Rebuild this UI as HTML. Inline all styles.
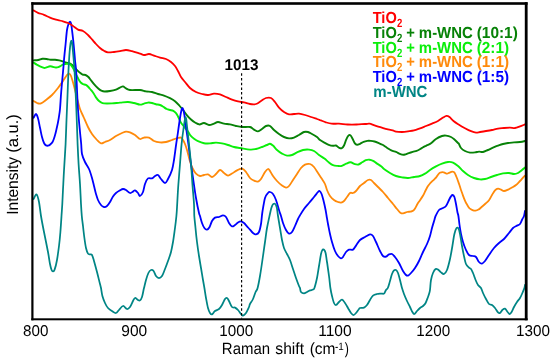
<!DOCTYPE html>
<html lang="en"><head><meta charset="utf-8"><title>Raman spectra</title>
<style>html,body{margin:0;padding:0;background:#fff;}svg{display:block;}</style></head>
<body>
<svg width="550" height="360" viewBox="0 0 550 360" font-family="Liberation Sans, Arial, sans-serif" text-rendering="geometricPrecision">
<rect x="0" y="0" width="550" height="360" fill="#ffffff"/>
<g fill="none" stroke-linejoin="round" stroke-linecap="round">
<path d="M33.6,60.4C34.4,60.3 36.8,60.3 38.3,60.0C39.8,59.7 41.1,59.0 42.5,58.8C43.9,58.6 45.3,58.8 46.7,59.0C48.1,59.2 49.4,59.7 50.8,59.8C52.2,59.9 53.6,59.6 55.0,59.7C56.4,59.8 57.8,60.1 59.2,60.4C60.6,60.7 61.9,61.2 63.3,61.6C64.7,62.0 66.3,62.5 67.5,62.9C68.7,63.3 69.6,63.4 70.5,63.9C71.4,64.4 72.0,64.9 73.0,65.8C74.0,66.7 75.2,68.3 76.3,69.4C77.4,70.5 78.7,71.7 79.7,72.6C80.8,73.5 81.6,74.2 82.6,74.6C83.6,75.0 84.5,74.6 85.5,75.0C86.5,75.4 87.4,76.0 88.4,77.0C89.4,78.0 90.2,79.4 91.3,80.7C92.3,82.0 93.6,83.7 94.7,84.9C95.8,86.2 96.9,87.2 98.0,88.2C99.1,89.2 100.2,90.2 101.3,90.7C102.4,91.2 103.2,91.5 104.7,91.5C106.2,91.5 108.1,91.3 110.0,91.0C111.9,90.7 114.3,90.2 116.0,89.6C117.7,89.0 118.8,88.1 120.0,87.6C121.2,87.1 122.0,86.3 123.0,86.4C124.0,86.5 124.8,87.8 126.0,88.4C127.2,89.0 127.7,89.7 130.0,90.0C132.3,90.3 137.3,89.8 140.0,90.0C142.7,90.2 144.0,91.1 146.0,91.4C148.0,91.7 150.0,91.6 152.0,92.0C154.0,92.4 156.0,93.4 158.0,94.0C160.0,94.6 162.0,94.9 164.0,95.6C166.0,96.3 168.2,97.3 170.0,98.2C171.8,99.1 173.5,100.0 175.0,101.2C176.5,102.4 177.7,103.7 179.0,105.2C180.3,106.7 181.7,108.3 183.0,110.0C184.3,111.7 185.7,113.7 187.0,115.3C188.3,116.9 189.7,118.3 191.0,119.5C192.3,120.7 193.8,121.8 195.0,122.5C196.2,123.2 197.2,123.7 198.0,124.0C198.8,124.3 199.0,124.6 200.0,124.4C201.0,124.2 202.5,122.9 204.0,123.0C205.5,123.1 207.3,124.9 209.0,125.0C210.7,125.1 212.5,124.1 214.0,123.6C215.5,123.1 216.3,122.0 218.0,122.0C219.7,122.0 222.0,123.2 224.0,123.6C226.0,124.0 228.0,124.0 230.0,124.4C232.0,124.8 234.0,125.6 236.0,126.0C238.0,126.4 239.7,126.8 242.0,127.0C244.3,127.2 248.0,126.6 250.0,127.0C252.0,127.4 252.7,128.9 254.0,129.6C255.3,130.3 256.7,131.5 258.0,131.4C259.3,131.3 260.7,129.9 262.0,129.0C263.3,128.1 264.7,126.5 266.0,126.0C267.3,125.5 268.7,125.3 270.0,126.0C271.3,126.7 272.5,128.7 274.0,130.0C275.5,131.3 277.3,132.8 279.0,134.0C280.7,135.2 282.3,136.3 284.0,137.0C285.7,137.7 287.3,138.3 289.0,138.4C290.7,138.5 292.3,138.2 294.0,137.6C295.7,137.0 297.3,135.9 299.0,135.0C300.7,134.1 302.5,132.5 304.0,132.0C305.5,131.5 306.7,131.7 308.0,132.0C309.3,132.3 310.5,133.2 312.0,134.0C313.5,134.8 315.7,136.0 317.0,137.0C318.3,138.0 318.8,139.1 320.0,140.0C321.2,140.9 322.9,141.8 324.4,142.6C325.8,143.4 327.3,144.3 328.7,144.8C330.1,145.3 331.8,145.7 333.0,145.8C334.2,145.9 335.0,145.2 336.0,145.5C337.0,145.8 337.9,147.2 338.9,147.7C339.9,148.1 340.9,148.6 341.8,148.2C342.7,147.8 343.3,146.9 344.0,145.5C344.7,144.1 345.5,141.3 346.2,139.7C346.9,138.1 347.7,136.4 348.4,135.7C349.1,135.0 349.8,134.8 350.5,135.4C351.2,136.0 352.0,137.7 352.7,139.0C353.4,140.3 354.2,142.4 354.9,143.4C355.6,144.4 356.2,144.7 357.1,144.8C358.0,144.9 358.9,144.3 360.0,143.8C361.1,143.3 362.4,142.4 363.6,141.9C364.8,141.4 366.1,141.1 367.3,140.9C368.5,140.7 369.7,140.8 370.9,140.9C372.1,141.0 373.3,141.2 374.5,141.5C375.7,141.8 376.9,142.3 378.2,142.9C379.5,143.5 381.1,144.0 382.5,144.8C383.9,145.6 385.4,146.8 386.9,147.7C388.4,148.6 389.8,149.7 391.3,150.4C392.8,151.1 394.7,151.4 396.0,151.9C397.3,152.4 398.3,153.2 399.3,153.6C400.3,154.0 401.2,154.4 402.1,154.6C403.0,154.8 403.8,154.8 404.9,154.5C406.0,154.2 407.5,153.5 408.8,153.1C410.1,152.7 411.4,152.3 412.7,151.9C414.0,151.5 415.4,151.2 416.6,150.8C417.8,150.4 418.9,149.8 419.9,149.2C420.9,148.6 421.7,148.1 422.7,147.5C423.7,146.9 425.0,146.3 426.0,145.8C427.0,145.3 427.7,145.1 428.5,144.7C429.3,144.3 429.8,144.2 431.0,143.3C432.2,142.4 434.2,140.2 436.0,139.0C437.8,137.8 440.3,136.6 442.0,136.0C443.7,135.4 444.5,135.4 446.0,135.6C447.5,135.8 449.5,136.3 451.0,137.0C452.5,137.7 453.8,139.0 455.0,140.0C456.2,141.0 457.3,142.3 458.0,143.0C458.7,143.7 458.5,143.2 459.0,144.0C459.5,144.8 460.0,146.8 461.0,148.0C462.0,149.2 463.5,150.2 465.0,151.0C466.5,151.8 468.3,152.4 470.0,152.6C471.7,152.8 473.5,152.6 475.0,152.4C476.5,152.2 477.7,151.7 479.0,151.6C480.3,151.5 481.5,152.3 483.0,152.0C484.5,151.7 486.3,150.7 488.0,150.0C489.7,149.3 491.3,148.3 493.0,147.6C494.7,146.9 496.3,146.2 498.0,145.6C499.7,145.0 501.3,144.4 503.0,144.0C504.7,143.6 506.2,143.3 508.0,143.0C509.8,142.7 512.0,142.6 514.0,142.4C516.0,142.2 518.2,142.2 520.0,142.0C521.8,141.8 524.2,141.2 525.0,141.0" stroke="#078207" stroke-width="1.9"/>
<path d="M33.6,62.6C34.1,62.9 35.6,64.0 36.7,64.6C37.8,65.2 38.9,65.8 40.0,66.3C41.1,66.8 42.5,67.4 43.3,67.7C44.1,68.0 44.3,68.0 45.0,67.9C45.7,67.8 46.7,67.4 47.5,67.1C48.3,66.8 49.2,66.4 50.0,66.3C50.8,66.2 51.5,66.5 52.5,66.7C53.5,66.9 54.8,67.4 55.8,67.5C56.8,67.6 57.5,67.4 58.3,67.1C59.1,66.8 60.0,66.2 60.8,65.8C61.6,65.3 62.3,64.7 63.3,64.4C64.3,64.1 65.6,63.8 66.7,63.8C67.8,63.8 68.9,63.8 69.7,64.2C70.5,64.6 71.2,65.4 71.8,66.2C72.4,67.0 73.1,68.2 73.6,69.2C74.1,70.2 74.5,71.2 75.0,72.2C75.5,73.2 76.0,74.3 76.5,75.2C77.0,76.1 77.4,76.8 77.8,77.6C78.2,78.4 78.5,79.3 79.0,80.1C79.5,80.9 80.0,81.8 80.7,82.5C81.4,83.2 82.1,83.7 83.0,84.1C83.9,84.5 85.0,84.4 85.9,84.9C86.8,85.4 87.6,86.2 88.4,87.0C89.2,87.8 90.1,89.0 90.9,89.9C91.7,90.8 92.2,91.4 93.0,92.5C93.8,93.6 94.7,95.3 95.5,96.6C96.3,97.8 97.1,99.0 98.0,100.0C98.9,101.0 100.0,101.8 101.0,102.4C102.0,103.0 102.2,103.2 104.0,103.4C105.8,103.6 109.3,103.5 112.0,103.4C114.7,103.3 117.3,102.8 120.0,102.6C122.7,102.4 125.7,101.9 128.0,102.0C130.3,102.1 132.0,102.6 134.0,103.0C136.0,103.4 138.3,104.5 140.0,104.6C141.7,104.7 142.7,103.9 144.0,103.6C145.3,103.3 146.7,102.7 148.0,102.6C149.3,102.5 150.7,102.7 152.0,103.0C153.3,103.3 154.7,103.9 156.0,104.2C157.3,104.5 158.8,104.6 160.0,105.0C161.2,105.4 162.2,106.1 163.3,106.8C164.4,107.5 165.6,108.5 166.7,109.0C167.8,109.5 168.9,109.7 170.0,110.0C171.1,110.3 172.3,110.4 173.3,110.9C174.3,111.4 175.0,112.0 175.8,112.9C176.6,113.8 177.3,115.1 177.9,116.2C178.5,117.3 179.1,118.7 179.6,119.8C180.1,120.9 180.3,121.7 181.0,122.8C181.7,123.9 182.8,125.1 184.0,126.6C185.2,128.1 186.9,130.1 188.0,131.6C189.1,133.1 189.5,134.4 190.6,135.6C191.7,136.8 193.2,138.1 194.4,139.0C195.6,139.9 196.4,140.5 198.0,141.2C199.6,141.9 202.0,142.8 204.0,143.2C206.0,143.6 208.0,143.5 210.0,143.4C212.0,143.3 214.0,142.6 216.0,142.6C218.0,142.6 220.0,143.0 222.0,143.4C224.0,143.8 226.0,144.4 228.0,145.0C230.0,145.6 232.0,146.5 234.0,147.0C236.0,147.5 237.3,147.6 240.0,148.0C242.7,148.4 247.3,149.4 250.0,149.6C252.7,149.8 254.0,149.4 256.0,149.0C258.0,148.6 260.2,147.7 262.0,147.0C263.8,146.3 265.7,145.5 267.0,145.0C268.3,144.5 269.0,143.7 270.0,143.8C271.0,143.9 271.8,144.6 273.0,145.6C274.2,146.6 275.5,148.7 277.0,150.0C278.5,151.3 280.3,152.7 282.0,153.6C283.7,154.5 285.3,155.4 287.0,155.6C288.7,155.8 290.3,155.5 292.0,155.0C293.7,154.5 295.2,153.2 297.0,152.4C298.8,151.6 301.0,150.5 303.0,150.0C305.0,149.5 307.2,149.4 309.0,149.6C310.8,149.8 312.3,150.1 314.0,151.0C315.7,151.9 317.3,153.7 319.0,155.0C320.7,156.3 322.8,157.4 324.4,158.6C326.0,159.8 327.3,161.2 328.7,162.3C330.1,163.4 331.5,164.6 333.0,165.2C334.5,165.8 336.0,165.8 337.5,165.9C339.0,166.0 340.4,166.3 341.8,165.9C343.2,165.5 344.8,164.3 346.2,163.7C347.6,163.1 349.1,162.2 350.5,162.3C351.9,162.4 353.6,163.8 354.9,164.2C356.2,164.6 357.3,164.8 358.5,164.5C359.7,164.2 361.0,163.0 362.2,162.3C363.4,161.6 364.6,160.5 365.8,160.1C367.0,159.7 368.3,159.6 369.5,159.7C370.7,159.8 371.9,160.2 373.1,160.8C374.3,161.4 375.4,162.5 376.7,163.4C378.0,164.3 379.9,165.3 381.1,166.2C382.3,167.1 382.5,167.9 384.0,169.0C385.5,170.1 388.0,171.8 390.0,173.0C392.0,174.2 394.0,175.3 396.0,176.0C398.0,176.7 400.0,177.1 402.0,177.4C404.0,177.7 406.0,178.1 408.0,178.0C410.0,177.9 412.0,177.3 414.0,177.0C416.0,176.7 418.2,176.6 420.0,176.0C421.8,175.4 423.3,174.6 425.0,173.6C426.7,172.6 428.2,171.2 430.0,170.0C431.8,168.8 434.0,167.5 436.0,166.4C438.0,165.3 440.0,164.3 442.0,163.6C444.0,162.9 446.2,162.2 448.0,162.0C449.8,161.8 451.3,161.9 453.0,162.6C454.7,163.3 456.3,164.6 458.0,166.0C459.7,167.4 461.3,169.5 463.0,171.0C464.7,172.5 466.2,173.8 468.0,175.0C469.8,176.2 472.0,177.3 474.0,178.0C476.0,178.7 478.2,179.2 480.0,179.4C481.8,179.6 483.2,179.4 485.0,179.0C486.8,178.6 489.0,177.7 491.0,177.0C493.0,176.3 495.0,175.6 497.0,175.0C499.0,174.4 501.0,173.7 503.0,173.4C505.0,173.1 507.2,172.9 509.0,173.0C510.8,173.1 512.5,174.0 514.0,174.0C515.5,174.0 516.7,173.7 518.0,173.0C519.3,172.3 520.8,170.9 522.0,170.0C523.2,169.1 524.5,168.0 525.0,167.6" stroke="#0aee0a" stroke-width="1.9"/>
<path d="M33.6,101.0C34.2,101.3 35.8,102.6 37.0,103.0C38.2,103.4 39.5,103.9 41.0,103.4C42.5,102.9 44.2,101.4 46.0,100.0C47.8,98.6 50.0,97.0 52.0,95.0C54.0,93.0 56.2,90.3 58.0,88.0C59.8,85.7 61.5,83.2 63.0,81.0C64.5,78.8 66.0,76.2 67.0,75.0C68.0,73.8 68.3,73.4 69.0,73.6C69.7,73.8 70.2,73.9 71.0,76.0C71.8,78.1 73.0,82.3 74.0,86.0C75.0,89.7 76.0,94.2 77.0,98.0C78.0,101.8 78.8,105.7 80.0,109.0C81.2,112.3 82.7,115.0 84.0,118.0C85.3,121.0 86.7,124.3 88.0,127.0C89.3,129.7 90.5,131.8 92.0,134.0C93.5,136.2 95.5,138.4 97.0,140.0C98.5,141.6 99.7,143.1 101.0,143.4C102.3,143.7 103.5,142.6 105.0,142.0C106.5,141.4 108.2,141.0 110.0,140.0C111.8,139.0 114.0,137.2 116.0,136.0C118.0,134.8 120.3,133.7 122.0,133.0C123.7,132.3 124.7,131.7 126.0,131.6C127.3,131.5 128.5,131.8 130.0,132.4C131.5,133.0 133.3,133.9 135.0,135.0C136.7,136.1 138.5,138.6 140.0,139.0C141.5,139.4 142.5,137.8 144.0,137.6C145.5,137.4 147.3,137.0 149.0,137.6C150.7,138.2 152.2,140.2 154.0,141.0C155.8,141.8 158.0,142.2 160.0,142.4C162.0,142.6 164.0,142.4 166.0,142.0C168.0,141.6 170.0,140.7 172.0,140.0C174.0,139.3 176.5,138.4 178.0,138.0C179.5,137.6 180.2,137.3 181.0,137.6C181.8,137.9 182.3,138.9 183.0,140.0C183.7,141.1 184.3,142.3 185.0,144.0C185.7,145.7 186.2,147.3 187.0,150.0C187.8,152.7 188.7,157.0 189.6,160.0C190.5,163.0 191.3,165.7 192.4,168.0C193.5,170.3 194.7,172.3 196.0,173.6C197.3,174.9 198.7,175.8 200.0,176.0C201.3,176.2 202.7,175.3 204.0,175.0C205.3,174.7 206.7,174.1 208.0,174.4C209.3,174.7 210.7,177.1 212.0,177.0C213.3,176.9 214.7,175.2 216.0,174.0C217.3,172.8 218.7,170.2 220.0,170.0C221.3,169.8 222.7,172.1 224.0,173.0C225.3,173.9 226.7,175.5 228.0,175.6C229.3,175.7 230.5,174.5 232.0,173.6C233.5,172.7 235.3,171.2 237.0,170.4C238.7,169.6 240.5,168.3 242.0,168.6C243.5,168.9 244.7,170.4 246.0,172.0C247.3,173.6 248.7,176.6 250.0,178.0C251.3,179.4 252.7,180.0 254.0,180.6C255.3,181.2 256.8,181.9 258.0,181.6C259.2,181.3 259.8,180.6 261.0,179.0C262.2,177.4 263.8,173.7 265.0,172.0C266.2,170.3 267.2,169.2 268.0,169.0C268.8,168.8 269.2,169.8 270.0,171.0C270.8,172.2 271.8,174.3 273.0,176.0C274.2,177.7 275.5,179.4 277.0,181.0C278.5,182.6 280.5,184.5 282.0,185.6C283.5,186.7 284.8,187.5 286.0,187.6C287.2,187.7 287.8,187.3 289.0,186.0C290.2,184.7 291.7,182.0 293.0,180.0C294.3,178.0 295.7,176.0 297.0,174.0C298.3,172.0 299.7,169.6 301.0,168.0C302.3,166.4 303.5,165.3 305.0,164.6C306.5,163.9 308.5,163.6 310.0,164.0C311.5,164.4 312.7,165.5 314.0,167.0C315.3,168.5 316.7,171.0 318.0,173.0C319.3,175.0 320.8,177.2 322.0,179.0C323.2,180.8 324.2,182.2 325.0,184.0C325.8,185.8 326.2,188.0 327.0,190.0C327.8,192.0 328.8,194.3 330.0,196.0C331.2,197.7 332.7,199.0 334.0,200.0C335.3,201.0 336.8,201.6 338.0,202.0C339.2,202.4 340.0,202.8 341.0,202.6C342.0,202.4 343.0,201.9 344.0,201.0C345.0,200.1 346.0,198.3 347.0,197.0C348.0,195.7 349.0,193.7 350.0,193.0C351.0,192.3 352.0,193.3 353.0,193.0C354.0,192.7 354.8,192.2 356.0,191.0C357.2,189.8 358.7,187.3 360.0,186.0C361.3,184.7 362.7,184.0 364.0,183.0C365.3,182.0 366.8,180.5 368.0,180.0C369.2,179.5 370.0,179.5 371.0,180.0C372.0,180.5 372.8,181.8 374.0,183.0C375.2,184.2 376.5,185.5 378.0,187.0C379.5,188.5 381.3,190.2 383.0,192.0C384.7,193.8 386.3,196.0 388.0,198.0C389.7,200.0 391.5,202.2 393.0,204.0C394.5,205.8 395.8,207.6 397.0,209.0C398.2,210.4 399.0,211.7 400.0,212.4C401.0,213.1 401.8,213.5 403.0,213.4C404.2,213.3 405.8,212.3 407.0,212.0C408.2,211.7 409.5,211.8 410.5,211.6C411.5,211.4 412.2,211.4 413.0,210.8C413.8,210.2 414.5,209.3 415.2,208.2C415.9,207.1 416.5,205.7 417.3,204.3C418.1,202.9 419.2,201.5 420.2,200.0C421.2,198.5 422.2,197.0 423.1,195.5C424.0,194.0 424.6,192.4 425.3,191.0C426.0,189.6 426.8,188.0 427.5,186.8C428.2,185.6 428.9,184.8 429.6,184.0C430.3,183.2 431.1,182.4 431.8,181.7C432.5,181.0 433.3,180.3 434.0,179.6C434.7,178.9 435.5,178.2 436.2,177.4C436.9,176.6 437.4,175.6 438.0,174.8C438.6,174.0 439.0,173.2 439.8,172.8C440.6,172.4 441.8,172.1 442.7,172.1C443.6,172.1 444.3,172.6 445.0,172.9C445.7,173.2 446.3,173.8 447.1,173.7C447.9,173.6 448.8,172.9 449.6,172.6C450.5,172.2 451.5,171.7 452.2,171.6C452.9,171.5 453.3,171.7 453.8,172.0C454.3,172.3 454.7,172.9 455.1,173.7C455.6,174.5 456.0,175.8 456.5,177.0C457.0,178.2 457.5,179.6 458.0,181.0C458.5,182.4 459.0,183.9 459.5,185.3C460.0,186.8 460.3,188.0 460.9,189.7C461.5,191.4 462.3,193.6 463.0,195.6C463.7,197.6 464.6,199.8 465.3,201.4C466.0,203.0 466.7,204.0 467.4,205.2C468.1,206.4 468.8,207.6 469.6,208.4C470.5,209.2 471.5,209.7 472.5,210.1C473.5,210.5 474.5,210.8 475.5,210.7C476.5,210.6 477.5,210.2 478.5,209.6C479.5,209.0 480.1,208.3 481.3,207.3C482.5,206.3 484.3,204.7 485.6,203.5C486.9,202.3 487.9,201.6 489.0,200.2C490.1,198.8 491.0,196.6 492.0,195.0C493.0,193.4 494.0,191.5 495.0,190.4C496.0,189.3 497.0,188.7 498.0,188.6C499.0,188.5 500.0,189.2 501.0,189.6C502.0,190.0 502.8,191.0 504.0,191.0C505.2,191.0 506.7,190.2 508.0,189.6C509.3,189.0 510.7,188.4 512.0,187.6C513.3,186.8 514.7,186.1 516.0,185.0C517.3,183.9 518.8,182.2 520.0,181.0C521.2,179.8 522.2,178.5 523.0,177.6C523.8,176.7 524.7,175.9 525.0,175.6" stroke="#ff8a0a" stroke-width="1.8"/>
<path d="M33.6,117.7C34.0,117.1 35.3,113.9 36.0,114.0C36.7,114.1 37.3,116.0 38.0,118.3C38.7,120.6 39.3,124.6 40.0,127.7C40.7,130.8 41.3,134.4 42.0,137.0C42.7,139.6 43.3,141.6 44.0,143.0C44.7,144.4 45.3,145.0 46.0,145.4C46.7,145.8 47.3,145.8 48.0,145.7C48.7,145.6 49.2,145.4 50.0,144.7C50.8,144.0 51.9,143.1 52.7,141.7C53.5,140.3 54.0,138.5 54.7,136.3C55.4,134.1 56.0,131.3 56.7,128.3C57.4,125.3 58.2,121.5 58.7,118.3C59.2,115.1 59.6,113.4 60.0,109.0C60.4,104.6 60.7,98.2 61.2,92.0C61.7,85.8 62.5,77.3 63.0,72.0C63.5,66.7 63.6,64.7 64.0,60.0C64.4,55.3 65.1,49.0 65.6,44.0C66.1,39.0 66.5,33.3 67.0,30.0C67.5,26.7 68.0,25.4 68.5,24.0C69.0,22.6 69.5,21.6 70.0,21.6C70.5,21.6 70.9,22.6 71.2,24.0C71.5,25.4 71.6,26.7 72.0,30.0C72.4,33.3 73.1,39.0 73.6,44.0C74.1,49.0 74.6,55.3 75.0,60.0C75.4,64.7 75.9,66.7 76.2,72.0C76.5,77.3 76.8,85.3 77.1,92.0C77.4,98.7 77.7,105.3 78.2,112.0C78.7,118.7 79.5,126.7 80.0,132.0C80.5,137.3 80.9,140.3 81.2,144.0C81.5,147.7 81.4,151.0 82.0,154.0C82.6,157.0 83.8,159.5 85.0,162.0C86.2,164.5 87.8,166.3 89.0,169.0C90.2,171.7 91.2,175.2 92.0,178.0C92.8,180.8 93.3,183.3 94.0,186.0C94.7,188.7 95.3,191.7 96.0,194.0C96.7,196.3 97.2,198.2 98.0,200.0C98.8,201.8 100.0,203.8 101.0,205.0C102.0,206.2 103.0,206.8 104.0,207.0C105.0,207.2 106.0,206.8 107.0,206.0C108.0,205.2 109.0,203.6 110.0,202.0C111.0,200.4 112.0,197.9 113.0,196.4C114.0,194.9 114.8,194.0 116.0,193.0C117.2,192.0 118.8,191.1 120.0,190.4C121.2,189.7 122.0,189.1 123.0,189.0C124.0,188.9 124.8,189.3 126.0,190.0C127.2,190.7 128.8,192.7 130.0,193.0C131.2,193.3 132.2,192.0 133.0,191.6C133.8,191.2 134.2,190.2 135.0,190.4C135.8,190.6 137.2,192.1 138.0,193.0C138.8,193.9 139.2,196.2 140.0,196.0C140.8,195.8 142.2,194.0 143.0,192.0C143.8,190.0 144.2,186.3 145.0,184.0C145.8,181.7 146.8,179.3 148.0,178.4C149.2,177.5 150.8,178.8 152.0,178.4C153.2,178.0 154.0,176.6 155.0,176.0C156.0,175.4 157.0,174.5 158.0,175.0C159.0,175.5 159.8,177.7 161.0,179.0C162.2,180.3 163.8,183.0 165.0,183.0C166.2,183.0 166.8,181.2 168.0,179.0C169.2,176.8 171.0,173.2 172.0,170.0C173.0,166.8 173.3,164.3 174.0,160.0C174.7,155.7 175.5,148.7 176.2,144.0C176.9,139.3 177.4,136.3 178.0,132.0C178.6,127.7 179.4,121.7 180.0,118.0C180.6,114.3 181.1,111.7 181.5,110.0C181.9,108.3 182.1,108.0 182.4,108.0C182.7,108.0 183.1,108.8 183.4,110.0C183.7,111.2 183.9,111.7 184.4,115.0C184.9,118.3 185.7,125.2 186.4,130.0C187.1,134.8 187.7,139.0 188.4,144.0C189.1,149.0 189.6,154.3 190.4,160.0C191.2,165.7 192.1,171.7 193.0,178.0C193.9,184.3 195.0,192.2 196.0,198.0C197.0,203.8 198.3,210.0 199.0,213.0C199.7,216.0 199.5,214.3 200.0,216.0C200.5,217.7 201.3,221.0 202.0,223.0C202.7,225.0 203.6,226.9 204.4,228.0C205.2,229.1 206.1,229.8 207.0,229.6C207.9,229.4 208.8,228.4 209.6,227.0C210.4,225.6 211.1,222.6 212.0,221.0C212.9,219.4 213.8,218.3 215.0,217.6C216.2,216.9 217.7,217.4 219.0,217.0C220.3,216.6 221.8,215.4 223.0,215.4C224.2,215.4 225.0,215.7 226.0,217.0C227.0,218.3 228.0,221.4 229.0,223.0C230.0,224.6 231.0,226.1 232.0,226.4C233.0,226.7 234.0,225.7 235.0,225.0C236.0,224.3 237.0,223.0 238.0,222.4C239.0,221.8 240.0,221.3 241.0,221.4C242.0,221.5 243.0,222.2 244.0,223.0C245.0,223.8 246.0,225.3 247.0,226.4C248.0,227.5 249.0,228.5 250.0,229.6C251.0,230.7 252.0,232.2 253.0,233.0C254.0,233.8 255.0,234.6 256.0,234.4C257.0,234.2 258.2,233.7 259.0,232.0C259.8,230.3 260.4,227.3 261.0,224.0C261.6,220.7 261.7,216.3 262.4,212.0C263.1,207.7 264.1,201.2 265.0,198.0C265.9,194.8 267.2,194.0 268.0,193.0C268.8,192.0 269.2,191.8 270.0,192.0C270.8,192.2 272.0,192.7 273.0,194.0C274.0,195.3 275.0,197.3 276.0,200.0C277.0,202.7 278.2,207.3 279.0,210.0C279.8,212.7 280.3,213.8 281.0,216.0C281.7,218.2 282.2,220.7 283.0,223.0C283.8,225.3 285.0,228.2 286.0,230.0C287.0,231.8 288.0,233.3 289.0,233.6C290.0,233.9 291.0,233.3 292.0,232.0C293.0,230.7 294.0,228.2 295.0,226.0C296.0,223.8 297.2,220.7 298.0,219.0C298.8,217.3 298.6,217.7 299.6,216.0C300.6,214.3 302.4,211.2 304.0,209.0C305.6,206.8 307.3,205.0 309.0,203.0C310.7,201.0 312.5,198.8 314.0,197.0C315.5,195.2 317.1,193.0 318.0,192.0C318.9,191.0 319.0,190.7 319.6,191.0C320.2,191.3 320.9,192.3 321.6,194.0C322.3,195.7 322.9,198.3 323.6,201.0C324.3,203.7 325.1,207.5 325.6,210.0C326.1,212.5 326.2,213.7 326.6,216.0C327.0,218.3 327.4,221.0 328.0,224.0C328.6,227.0 329.3,231.0 330.0,234.0C330.7,237.0 331.2,239.2 332.0,242.0C332.8,244.8 334.0,248.7 335.0,251.0C336.0,253.3 337.0,254.8 338.0,256.0C339.0,257.2 340.2,258.2 341.0,258.4C341.8,258.6 342.2,258.1 343.0,257.0C343.8,255.9 345.0,253.2 346.0,252.0C347.0,250.8 347.8,250.0 349.0,249.6C350.2,249.2 351.8,250.3 353.0,249.6C354.2,248.9 354.8,247.2 356.0,245.6C357.2,244.0 358.5,241.4 360.0,240.0C361.5,238.6 363.3,237.9 365.0,237.0C366.7,236.1 368.7,234.6 370.0,234.4C371.3,234.2 372.0,234.7 373.0,236.0C374.0,237.3 374.8,239.5 376.0,242.0C377.2,244.5 378.8,248.7 380.0,251.0C381.2,253.3 382.0,255.1 383.0,256.0C384.0,256.9 385.0,256.9 386.0,256.6C387.0,256.3 388.0,254.8 389.0,254.4C390.0,254.0 391.0,253.6 392.0,254.0C393.0,254.4 393.8,255.5 395.0,257.0C396.2,258.5 397.7,260.7 399.0,263.0C400.3,265.3 401.8,269.0 403.0,271.0C404.2,273.0 405.2,274.2 406.0,275.0C406.8,275.8 407.2,275.9 408.0,275.6C408.8,275.3 409.8,274.3 411.0,273.0C412.2,271.7 413.7,270.0 415.0,268.0C416.3,266.0 417.7,263.7 419.0,261.0C420.3,258.3 421.7,254.8 423.0,252.0C424.3,249.2 425.8,246.7 427.0,244.0C428.2,241.3 429.2,238.7 430.0,236.0C430.8,233.3 431.3,230.7 432.0,228.0C432.7,225.3 433.8,222.0 434.4,220.0C435.0,218.0 434.8,217.7 435.6,216.0C436.4,214.3 437.8,211.3 439.0,210.0C440.2,208.7 441.8,208.7 443.0,208.0C444.2,207.3 445.0,207.3 446.0,206.0C447.0,204.7 448.2,201.6 449.0,200.0C449.8,198.4 450.4,197.2 451.0,196.4C451.6,195.6 452.0,194.9 452.6,195.0C453.2,195.1 453.8,195.5 454.4,197.0C455.0,198.5 455.5,201.5 456.0,204.0C456.5,206.5 457.0,210.0 457.4,212.0C457.8,214.0 458.1,214.0 458.4,216.0C458.7,218.0 459.0,221.0 459.4,224.0C459.8,227.0 460.4,231.0 461.0,234.0C461.6,237.0 462.2,239.3 463.0,242.0C463.8,244.7 465.0,247.8 466.0,250.0C467.0,252.2 467.8,254.0 469.0,255.0C470.2,256.0 471.8,255.7 473.0,256.0C474.2,256.3 475.0,256.0 476.0,257.0C477.0,258.0 478.0,260.9 479.0,262.0C480.0,263.1 481.0,263.8 482.0,263.6C483.0,263.4 483.8,262.4 485.0,261.0C486.2,259.6 487.5,257.2 489.0,255.0C490.5,252.8 492.3,250.0 494.0,248.0C495.7,246.0 497.3,244.5 499.0,243.0C500.7,241.5 502.3,240.7 504.0,239.0C505.7,237.3 507.5,234.8 509.0,233.0C510.5,231.2 511.7,229.2 513.0,228.0C514.3,226.8 515.8,226.3 517.0,225.6C518.2,224.9 519.1,225.1 520.0,224.0C520.9,222.9 521.7,220.3 522.4,219.0C523.1,217.7 523.6,217.3 524.0,216.0C524.4,214.7 524.8,211.8 525.0,211.0" stroke="#0000ff" stroke-width="1.8"/>
<path d="M33.6,199.0C34.1,198.2 35.7,193.9 36.6,194.4C37.5,194.9 38.3,198.4 39.0,202.0C39.7,205.6 40.2,211.0 41.0,216.0C41.8,221.0 42.8,226.0 44.0,232.0C45.2,238.0 47.0,246.7 48.0,252.0C49.0,257.3 49.4,261.0 50.0,264.0C50.6,267.0 51.1,268.8 51.6,270.0C52.1,271.2 52.5,271.5 53.0,271.4C53.5,271.3 53.9,271.5 54.6,269.6C55.3,267.7 56.3,263.9 57.0,260.0C57.7,256.1 58.4,250.7 59.0,246.0C59.6,241.3 60.0,237.0 60.4,232.0C60.8,227.0 61.2,220.7 61.5,216.0C61.8,211.3 62.0,209.3 62.3,204.0C62.6,198.7 62.9,190.7 63.3,184.0C63.6,177.3 64.0,170.7 64.4,164.0C64.8,157.3 65.2,151.3 65.6,144.0C65.9,136.7 66.2,128.0 66.5,120.0C66.8,112.0 67.2,104.0 67.5,96.0C67.8,88.0 68.1,79.3 68.4,72.0C68.8,64.7 69.2,56.8 69.6,52.0C70.0,47.2 70.3,44.9 70.6,43.0C70.9,41.1 71.1,40.6 71.4,40.6C71.7,40.6 71.9,41.1 72.2,43.0C72.5,44.9 72.6,47.8 73.0,52.0C73.4,56.2 74.1,64.7 74.4,68.0C74.7,71.3 74.3,65.3 74.6,72.0C74.9,78.7 75.8,96.0 76.3,108.0C76.8,120.0 77.2,134.7 77.6,144.0C78.0,153.3 78.2,157.3 78.6,164.0C79.0,170.7 79.6,177.3 80.0,184.0C80.4,190.7 80.7,198.7 81.0,204.0C81.3,209.3 81.5,212.3 81.8,216.0C82.1,219.7 82.6,222.3 83.0,226.0C83.4,229.7 83.9,234.3 84.4,238.0C84.9,241.7 85.4,245.4 86.0,248.0C86.6,250.6 87.3,252.5 88.0,253.6C88.7,254.7 89.3,254.2 90.0,254.4C90.7,254.6 91.3,253.9 92.0,255.0C92.7,256.1 93.2,258.2 94.0,261.0C94.8,263.8 96.0,268.2 97.0,272.0C98.0,275.8 99.3,281.3 100.0,284.0C100.7,286.7 100.6,286.0 101.0,288.0C101.4,290.0 101.7,293.5 102.4,296.0C103.1,298.5 104.1,301.0 105.0,303.0C105.9,305.0 106.8,306.7 108.0,308.0C109.2,309.3 110.7,310.2 112.0,311.0C113.3,311.8 114.8,313.2 116.0,313.0C117.2,312.8 117.8,311.2 119.0,310.0C120.2,308.8 121.7,306.2 123.0,306.0C124.3,305.8 125.8,308.8 127.0,309.0C128.2,309.2 129.0,308.3 130.0,307.0C131.0,305.7 132.2,302.5 133.0,301.0C133.8,299.5 134.2,298.2 135.0,298.0C135.8,297.8 137.2,299.6 138.0,300.0C138.8,300.4 139.3,300.9 140.0,300.4C140.7,299.9 141.3,299.1 142.0,297.0C142.7,294.9 143.3,290.8 144.0,288.0C144.7,285.2 145.3,282.5 146.0,280.0C146.7,277.5 147.6,274.7 148.4,273.0C149.2,271.3 150.1,270.3 151.0,270.0C151.9,269.7 152.8,270.0 153.6,271.0C154.4,272.0 155.1,274.8 156.0,276.0C156.9,277.2 158.0,278.0 159.0,278.0C160.0,278.0 161.0,277.5 162.0,276.0C163.0,274.5 164.0,271.5 165.0,269.0C166.0,266.5 167.0,263.8 168.0,261.0C169.0,258.2 170.2,255.2 171.0,252.0C171.8,248.8 172.3,246.0 173.0,242.0C173.7,238.0 174.4,232.3 175.0,228.0C175.6,223.7 176.0,220.0 176.4,216.0C176.8,212.0 176.9,209.3 177.2,204.0C177.5,198.7 177.9,190.7 178.4,184.0C178.9,177.3 179.5,170.7 180.0,164.0C180.5,157.3 181.0,150.0 181.6,144.0C182.2,138.0 183.0,132.2 183.6,128.0C184.2,123.8 184.7,120.8 185.0,119.0C185.3,117.2 185.4,117.0 185.6,117.0C185.8,117.0 185.9,117.2 186.2,119.0C186.5,120.8 186.8,124.5 187.2,128.0C187.6,131.5 188.3,137.3 188.6,140.0C188.9,142.7 188.6,140.0 189.0,144.0C189.4,148.0 190.4,157.3 191.0,164.0C191.6,170.7 191.9,177.3 192.4,184.0C192.9,190.7 193.7,198.7 194.0,204.0C194.3,209.3 194.1,212.0 194.3,216.0C194.6,220.0 195.1,223.7 195.5,228.0C195.9,232.3 196.4,237.3 197.0,242.0C197.6,246.7 198.3,251.7 199.0,256.0C199.7,260.3 200.3,264.0 201.0,268.0C201.7,272.0 202.4,276.7 203.0,280.0C203.6,283.3 203.9,285.0 204.4,288.0C204.9,291.0 205.4,294.7 206.0,298.0C206.6,301.3 207.3,305.5 208.0,308.0C208.7,310.5 209.3,311.9 210.0,313.0C210.7,314.1 211.2,314.7 212.0,314.4C212.8,314.1 213.8,311.9 215.0,311.0C216.2,310.1 217.8,310.0 219.0,309.0C220.2,308.0 221.0,306.7 222.0,305.0C223.0,303.3 224.2,300.2 225.0,299.0C225.8,297.8 226.3,297.7 227.0,298.0C227.7,298.3 228.2,299.5 229.0,301.0C229.8,302.5 231.0,305.9 232.0,307.0C233.0,308.1 234.0,307.1 235.0,307.6C236.0,308.1 237.0,308.9 238.0,310.0C239.0,311.1 240.2,313.1 241.0,314.0C241.8,314.9 242.2,315.8 243.0,315.6C243.8,315.4 245.0,314.4 246.0,313.0C247.0,311.6 248.3,308.5 249.0,307.0C249.7,305.5 249.3,305.3 250.0,304.0C250.7,302.7 252.1,301.0 253.0,299.0C253.9,297.0 254.8,293.8 255.6,292.0C256.4,290.2 256.9,290.7 257.6,288.0C258.3,285.3 259.1,281.3 260.0,276.0C260.9,270.7 262.2,261.7 263.0,256.0C263.8,250.3 264.3,246.7 265.0,242.0C265.7,237.3 266.2,232.3 267.0,228.0C267.8,223.7 268.8,219.2 269.5,216.0C270.2,212.8 270.7,210.3 271.2,208.5C271.7,206.7 272.0,205.9 272.4,205.2C272.8,204.4 273.1,204.2 273.4,204.0C273.7,203.8 274.0,203.7 274.3,203.7C274.6,203.7 274.9,203.7 275.2,204.0C275.5,204.3 275.8,204.7 276.1,205.4C276.4,206.2 276.7,206.7 277.0,208.5C277.3,210.3 277.5,212.8 278.0,216.0C278.5,219.2 279.3,224.0 280.0,228.0C280.7,232.0 281.3,236.7 282.0,240.0C282.7,243.3 283.2,245.7 284.0,248.0C284.8,250.3 286.0,252.0 287.0,254.0C288.0,256.0 289.0,257.5 290.0,260.0C291.0,262.5 292.0,266.0 293.0,269.0C294.0,272.0 295.0,275.2 296.0,278.0C297.0,280.8 298.3,284.3 299.0,286.0C299.7,287.7 299.7,287.0 300.0,288.0C300.3,289.0 300.3,291.1 301.0,292.0C301.7,292.9 303.0,293.4 304.0,293.4C305.0,293.4 306.0,292.5 307.0,292.0C308.0,291.5 309.0,290.8 310.0,290.4C311.0,290.0 312.3,290.0 313.0,289.6C313.7,289.2 313.7,289.9 314.4,288.0C315.1,286.1 316.2,281.7 317.0,278.0C317.8,274.3 318.3,270.0 319.0,266.0C319.7,262.0 320.4,256.7 321.0,254.0C321.6,251.3 321.9,250.7 322.4,250.0C322.9,249.3 323.5,249.1 324.0,249.6C324.5,250.1 325.1,250.9 325.6,253.0C326.1,255.1 326.4,258.2 327.0,262.0C327.6,265.8 328.4,271.7 329.0,276.0C329.6,280.3 329.9,284.7 330.4,288.0C330.9,291.3 331.4,293.5 332.0,296.0C332.6,298.5 333.3,301.5 334.0,303.0C334.7,304.5 335.2,305.2 336.0,305.0C336.8,304.8 338.0,302.9 339.0,302.0C340.0,301.1 341.0,299.4 342.0,299.6C343.0,299.8 344.0,301.6 345.0,303.0C346.0,304.4 347.0,306.3 348.0,308.0C349.0,309.7 350.1,311.8 351.0,313.0C351.9,314.2 352.8,315.0 353.6,315.0C354.4,315.0 355.1,314.0 356.0,313.0C356.9,312.0 358.3,309.8 359.0,309.0C359.7,308.2 359.2,308.2 360.0,308.0C360.8,307.8 362.8,308.1 364.0,307.6C365.2,307.1 366.0,306.3 367.0,305.0C368.0,303.7 369.0,301.6 370.0,300.0C371.0,298.4 371.8,296.6 373.0,295.6C374.2,294.6 375.7,294.3 377.0,294.0C378.3,293.7 379.8,293.7 381.0,293.6C382.2,293.5 383.2,294.2 384.0,293.6C384.8,293.0 385.4,290.9 386.0,290.0C386.6,289.1 387.1,289.5 387.8,288.0C388.5,286.5 389.3,283.3 390.0,281.0C390.7,278.7 391.3,275.8 392.0,274.0C392.7,272.2 393.3,271.1 394.0,270.4C394.7,269.7 395.3,269.6 396.0,270.0C396.7,270.4 397.3,271.3 398.0,273.0C398.7,274.7 399.3,277.5 400.0,280.0C400.7,282.5 401.3,285.7 402.0,288.0C402.7,290.3 403.2,291.8 404.0,294.0C404.8,296.2 406.0,298.8 407.0,301.0C408.0,303.2 409.1,305.2 410.0,307.0C410.9,308.8 411.7,310.8 412.4,312.0C413.1,313.2 413.6,314.2 414.4,314.0C415.2,313.8 416.1,312.0 417.0,311.0C417.9,310.0 419.0,308.8 420.0,308.0C421.0,307.2 422.1,306.8 423.0,306.0C423.9,305.2 424.8,304.5 425.6,303.0C426.4,301.5 427.3,298.8 428.0,297.0C428.7,295.2 429.2,293.5 429.6,292.0C430.0,290.5 430.0,290.0 430.2,288.0C430.4,286.0 430.5,282.5 431.0,280.0C431.5,277.5 432.2,274.8 433.0,273.0C433.8,271.2 434.8,269.6 435.6,269.0C436.4,268.4 437.1,269.0 438.0,269.6C438.9,270.2 440.0,271.7 441.0,272.4C442.0,273.1 443.0,274.4 444.0,274.0C445.0,273.6 446.0,272.5 447.0,270.0C448.0,267.5 449.1,263.0 450.0,259.0C450.9,255.0 451.7,250.2 452.4,246.0C453.1,241.8 453.7,237.0 454.4,234.0C455.1,231.0 455.7,229.1 456.4,228.2C457.1,227.3 457.8,227.4 458.4,228.4C459.0,229.4 459.4,231.1 460.0,234.0C460.6,236.9 461.3,242.2 462.0,246.0C462.7,249.8 463.5,254.0 464.2,257.0C464.9,260.0 465.2,262.2 466.0,264.0C466.8,265.8 468.2,266.8 469.0,267.6C469.8,268.4 470.3,268.1 471.0,269.0C471.7,269.9 472.2,271.2 473.0,273.0C473.8,274.8 474.8,278.0 475.6,280.0C476.4,282.0 477.1,283.7 478.0,285.0C478.9,286.3 480.2,286.7 481.0,288.0C481.8,289.3 482.2,291.2 483.0,293.0C483.8,294.8 485.0,297.2 486.0,299.0C487.0,300.8 488.0,303.0 489.0,304.0C490.0,305.0 491.0,304.3 492.0,305.0C493.0,305.7 494.0,306.8 495.0,308.0C496.0,309.2 497.2,311.6 498.0,312.4C498.8,313.2 499.3,313.4 500.0,313.0C500.7,312.6 501.6,310.7 502.4,310.0C503.2,309.3 504.1,308.3 505.0,308.6C505.9,308.9 506.8,311.1 507.6,312.0C508.4,312.9 508.9,314.0 509.6,314.0C510.3,314.0 510.9,313.2 511.6,312.0C512.3,310.8 513.1,308.7 514.0,307.0C514.9,305.3 516.0,303.5 517.0,302.0C518.0,300.5 519.1,299.5 520.0,298.0C520.9,296.5 521.7,294.7 522.4,293.0C523.1,291.3 524.0,289.3 524.4,288.0C524.8,286.7 524.9,285.5 525.0,285.0" stroke="#008585" stroke-width="1.75"/>
<path d="M33.6,10.4C34.3,10.8 36.3,12.1 38.0,12.8C39.7,13.5 42.0,14.0 44.0,14.8C46.0,15.6 48.0,16.8 50.0,17.6C52.0,18.4 54.0,19.0 56.0,19.6C58.0,20.2 60.0,20.4 62.0,21.0C64.0,21.6 66.2,22.2 68.0,23.0C69.8,23.8 71.3,24.9 73.0,26.0C74.7,27.1 76.3,28.8 78.0,29.6C79.7,30.4 81.3,30.1 83.0,31.0C84.7,31.9 86.5,33.6 88.0,35.0C89.5,36.4 90.7,37.9 92.0,39.4C93.3,40.9 94.7,42.6 96.0,44.0C97.3,45.4 98.7,46.9 100.0,48.0C101.3,49.1 102.7,50.1 104.0,50.8C105.3,51.5 106.3,52.2 108.0,52.4C109.7,52.6 112.0,52.2 114.0,52.0C116.0,51.8 118.0,51.5 120.0,51.2C122.0,50.9 124.0,50.0 126.0,50.0C128.0,50.0 129.7,50.6 132.0,51.2C134.3,51.8 138.0,53.0 140.0,53.6C142.0,54.2 142.5,54.9 144.0,55.0C145.5,55.1 147.3,53.9 149.0,54.0C150.7,54.1 152.2,55.0 154.0,55.6C155.8,56.2 158.0,57.0 160.0,57.6C162.0,58.2 164.2,58.3 166.0,59.0C167.8,59.7 169.5,60.8 171.0,62.0C172.5,63.2 173.8,64.5 175.0,66.0C176.2,67.5 177.0,69.2 178.0,71.0C179.0,72.8 179.8,75.2 181.0,77.0C182.2,78.8 183.5,80.2 185.0,82.0C186.5,83.8 188.2,86.3 190.0,88.0C191.8,89.7 194.0,91.0 196.0,92.0C198.0,93.0 200.0,93.5 202.0,94.0C204.0,94.5 206.0,95.1 208.0,95.0C210.0,94.9 212.0,93.7 214.0,93.6C216.0,93.5 218.0,93.8 220.0,94.4C222.0,95.0 224.0,96.1 226.0,97.0C228.0,97.9 230.0,98.9 232.0,99.6C234.0,100.3 236.0,100.9 238.0,101.4C240.0,101.9 242.0,102.0 244.0,102.4C246.0,102.8 248.0,103.7 250.0,104.0C252.0,104.3 254.2,104.5 256.0,104.0C257.8,103.5 259.3,102.0 261.0,101.0C262.7,100.0 264.3,98.5 266.0,98.0C267.7,97.5 269.5,97.3 271.0,98.0C272.5,98.7 273.7,100.4 275.0,102.0C276.3,103.6 277.5,105.9 279.0,107.6C280.5,109.3 282.3,110.9 284.0,112.0C285.7,113.1 287.3,114.1 289.0,114.4C290.7,114.7 292.3,114.1 294.0,114.0C295.7,113.9 297.2,113.4 299.0,113.6C300.8,113.8 303.0,114.4 305.0,115.0C307.0,115.6 309.0,116.3 311.0,117.0C313.0,117.7 315.5,118.5 317.0,119.0C318.5,119.5 318.5,119.5 320.0,120.1C321.5,120.6 323.9,121.7 325.8,122.3C327.7,122.9 329.4,123.5 331.6,123.7C333.8,123.9 336.2,123.6 338.9,123.7C341.6,123.8 344.7,124.4 347.6,124.5C350.5,124.6 353.5,124.6 356.4,124.5C359.3,124.4 362.9,124.1 365.1,124.0C367.3,123.9 368.1,123.5 369.5,123.7C370.9,123.9 372.4,124.7 373.8,125.2C375.2,125.7 376.8,126.2 378.2,126.6C379.6,127.0 381.1,127.4 382.5,127.8C383.9,128.2 385.2,128.7 386.9,129.1C388.6,129.5 391.2,130.0 392.7,130.4C394.2,130.8 394.4,131.3 396.0,131.6C397.6,131.9 400.0,132.0 402.0,132.0C404.0,132.0 406.0,131.7 408.0,131.4C410.0,131.1 412.0,130.9 414.0,130.4C416.0,129.9 418.0,129.1 420.0,128.4C422.0,127.7 424.0,126.8 426.0,126.0C428.0,125.2 430.0,124.4 432.0,123.6C434.0,122.8 436.2,122.0 438.0,121.0C439.8,120.0 441.6,118.5 443.0,117.6C444.4,116.7 445.4,115.9 446.5,115.8C447.6,115.7 448.3,116.1 449.5,117.0C450.7,117.9 451.9,119.7 453.5,121.0C455.1,122.3 457.1,123.5 459.0,124.7C460.9,125.9 463.0,127.1 465.0,128.2C467.0,129.3 469.2,130.5 471.0,131.2C472.8,131.9 474.5,132.5 476.0,132.6C477.5,132.7 478.3,132.3 480.0,132.0C481.7,131.7 484.0,131.3 486.0,131.0C488.0,130.7 490.0,130.4 492.0,130.0C494.0,129.6 496.0,128.9 498.0,128.6C500.0,128.3 502.0,128.2 504.0,128.0C506.0,127.8 508.2,127.6 510.0,127.6C511.8,127.6 513.3,128.2 515.0,128.0C516.7,127.8 518.3,127.0 520.0,126.4C521.7,125.8 524.2,124.7 525.0,124.4" stroke="#ff0000" stroke-width="1.8"/>
</g>
<line x1="241.6" y1="73.3" x2="241.6" y2="318.5" stroke="#000" stroke-width="1.15" stroke-dasharray="2.5 2.2"/>
<g fill="#000"><rect x="31.3" y="2.2" width="496.3" height="2.6"/><rect x="31.3" y="318.3" width="496.3" height="2.0"/><rect x="31.3" y="2.2" width="2.2" height="318.1"/><rect x="524.8" y="2.2" width="2.8" height="318.1"/></g>
<text x="23.03" y="335.9" font-size="15.6" textLength="25.35" lengthAdjust="spacingAndGlyphs" fill="#000">800</text>
<text x="121.27" y="335.9" font-size="15.6" textLength="25.91" lengthAdjust="spacingAndGlyphs" fill="#000">900</text>
<text x="219.25" y="335.9" font-size="15.6" textLength="33.93" lengthAdjust="spacingAndGlyphs" fill="#000">1000</text>
<text x="318.23" y="335.9" font-size="15.6" textLength="33.46" lengthAdjust="spacingAndGlyphs" fill="#000">1100</text>
<text x="416.35" y="335.9" font-size="15.6" textLength="33.83" lengthAdjust="spacingAndGlyphs" fill="#000">1200</text>
<text x="516.05" y="335.9" font-size="15.6" textLength="33.93" lengthAdjust="spacingAndGlyphs" fill="#000">1300</text>
<text x="221.83" y="354.1" font-size="16.2" textLength="48.21" lengthAdjust="spacingAndGlyphs" fill="#000">Raman</text>
<text x="275.36" y="354.1" font-size="16.2" textLength="28.69" lengthAdjust="spacingAndGlyphs" fill="#000">shift</text>
<text x="309.67" y="354.1" font-size="16.2" textLength="25.83" lengthAdjust="spacingAndGlyphs" fill="#000">(cm</text>
<text x="335.09" y="350.5" font-size="13.5" textLength="3.26" lengthAdjust="spacingAndGlyphs" fill="#000">-</text>
<text x="338.28" y="349.8" font-size="10.6" textLength="5.52" lengthAdjust="spacingAndGlyphs" fill="#000">1</text>
<text x="344.80" y="354.1" font-size="16.2" textLength="4.14" lengthAdjust="spacingAndGlyphs" fill="#000">)</text>
<text transform="translate(18.1,213.6) rotate(-90)" x="-1.21" y="0" font-size="16.2" textLength="57.81" lengthAdjust="spacingAndGlyphs" fill="#000">Intensity</text>
<text transform="translate(18.1,152.1) rotate(-90)" x="-0.78" y="0" font-size="16.2" textLength="38.74" lengthAdjust="spacingAndGlyphs" fill="#000">(a.u.)</text>
<text x="224.44" y="69.7" font-size="15.5" font-weight="bold" textLength="34.04" lengthAdjust="spacingAndGlyphs" fill="#000">1013</text>
<text x="372.70" y="23.1" font-size="16.0" font-weight="bold" textLength="24.11" lengthAdjust="spacingAndGlyphs" fill="#ff0000">TiO</text>
<text x="397.00" y="27.1" font-size="12" font-weight="bold" textLength="5.34" lengthAdjust="spacingAndGlyphs" fill="#ff0000">2</text>
<text x="372.70" y="37.7" font-size="16.0" font-weight="bold" textLength="24.11" lengthAdjust="spacingAndGlyphs" fill="#078207">TiO</text>
<text x="397.00" y="41.7" font-size="12" font-weight="bold" textLength="5.34" lengthAdjust="spacingAndGlyphs" fill="#078207">2</text>
<text x="406.24" y="37.7" font-size="16.0" font-weight="bold" textLength="8.61" lengthAdjust="spacingAndGlyphs" fill="#078207">+</text>
<text x="418.87" y="37.7" font-size="16.0" font-weight="bold" textLength="53.92" lengthAdjust="spacingAndGlyphs" fill="#078207">m-WNC</text>
<text x="476.68" y="37.7" font-size="16.0" font-weight="bold" textLength="41.18" lengthAdjust="spacingAndGlyphs" fill="#078207">(10:1)</text>
<text x="372.70" y="52.5" font-size="16.0" font-weight="bold" textLength="24.11" lengthAdjust="spacingAndGlyphs" fill="#0aee0a">TiO</text>
<text x="397.00" y="56.5" font-size="12" font-weight="bold" textLength="5.34" lengthAdjust="spacingAndGlyphs" fill="#0aee0a">2</text>
<text x="406.24" y="52.5" font-size="16.0" font-weight="bold" textLength="8.61" lengthAdjust="spacingAndGlyphs" fill="#0aee0a">+</text>
<text x="418.87" y="52.5" font-size="16.0" font-weight="bold" textLength="53.92" lengthAdjust="spacingAndGlyphs" fill="#0aee0a">m-WNC</text>
<text x="476.68" y="52.5" font-size="16.0" font-weight="bold" textLength="32.37" lengthAdjust="spacingAndGlyphs" fill="#0aee0a">(2:1)</text>
<text x="372.70" y="67.3" font-size="16.0" font-weight="bold" textLength="24.11" lengthAdjust="spacingAndGlyphs" fill="#ff8a0a">TiO</text>
<text x="397.00" y="71.3" font-size="12" font-weight="bold" textLength="5.34" lengthAdjust="spacingAndGlyphs" fill="#ff8a0a">2</text>
<text x="406.24" y="67.3" font-size="16.0" font-weight="bold" textLength="8.61" lengthAdjust="spacingAndGlyphs" fill="#ff8a0a">+</text>
<text x="418.87" y="67.3" font-size="16.0" font-weight="bold" textLength="53.92" lengthAdjust="spacingAndGlyphs" fill="#ff8a0a">m-WNC</text>
<text x="476.68" y="67.3" font-size="16.0" font-weight="bold" textLength="32.37" lengthAdjust="spacingAndGlyphs" fill="#ff8a0a">(1:1)</text>
<text x="372.70" y="82.0" font-size="16.0" font-weight="bold" textLength="24.11" lengthAdjust="spacingAndGlyphs" fill="#0000ff">TiO</text>
<text x="397.00" y="86.0" font-size="12" font-weight="bold" textLength="5.34" lengthAdjust="spacingAndGlyphs" fill="#0000ff">2</text>
<text x="406.24" y="82.0" font-size="16.0" font-weight="bold" textLength="8.61" lengthAdjust="spacingAndGlyphs" fill="#0000ff">+</text>
<text x="418.87" y="82.0" font-size="16.0" font-weight="bold" textLength="53.92" lengthAdjust="spacingAndGlyphs" fill="#0000ff">m-WNC</text>
<text x="476.68" y="82.0" font-size="16.0" font-weight="bold" textLength="32.37" lengthAdjust="spacingAndGlyphs" fill="#0000ff">(1:5)</text>
<text x="373.36" y="96.8" font-size="16.0" font-weight="bold" textLength="54.02" lengthAdjust="spacingAndGlyphs" fill="#008585">m-WNC</text>
</svg>
</body></html>
